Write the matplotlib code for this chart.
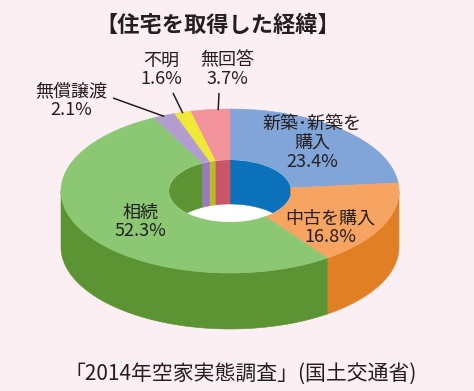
#!/usr/bin/env python3
"""
住宅を取得した経緯 - 3D ドーナツ円グラフ
"""

import numpy as np
import matplotlib
matplotlib.use('Agg')
import matplotlib.pyplot as plt
from matplotlib.patches import Polygon, Ellipse

plt.rcParams['font.family'] = ['Noto Sans CJK JP', 'DejaVu Sans']

# データ (時計回り、12時の位置から)
labels = ['新築･新築を\n購入', '中古を購入', '相続', '無償譲渡', '不明', '無回答']
values = [23.4, 16.8, 52.3, 2.1, 1.6, 3.7]
top_colors = ['#82A5D9', '#F7A462', '#8CC874', '#B39CD0', '#EEE836', '#F2939E']
side_colors = ['#2F6FB5', '#E17F25', '#5C9333', '#9A7BB9', '#BBB72C', '#CB5569']
inner_colors = ['#0B71BB', '#E17F25', '#5C9333', '#9A7BB9', '#BBB72C', '#CB5569']

title = '【住宅を取得した経緯】'
source = '「2014年空家実態調査」(国土交通省)'

BG = '#FCEFF4'
TXT = '#231F20'

# 形状 (ピクセル座標)
cx, cy = 230, 191
rx, ry = 169, 82
rx_in, ry_in = 61, 31
depth = 56
depth_in = 44


def pt(t, a, b, dy=0.0):
    t = np.radians(t)
    return np.column_stack([cx + a * np.cos(t), cy - b * np.sin(t) + dy])


def overlap(t1, t2, lo, hi):
    """区間 [t2, t1] (t1 > t2) と [lo, hi] の重なり"""
    out = []
    for k in (-2, -1, 0, 1, 2):
        a, b = t1 + 360 * k, t2 + 360 * k
        s, e = max(b, lo), min(a, hi)
        if e > s:
            out.append((e - 360 * k, s - 360 * k))
    return out


fracs = np.array(values) / sum(values)
ends = 90 - 360 * np.cumsum(fracs)
starts = np.concatenate([[90], ends[:-1]])

fig = plt.figure(figsize=(4.74, 3.91), dpi=100)
fig.patch.set_facecolor(BG)
ax = fig.add_axes([0, 0, 1, 1])
ax.set_xlim(0, 474)
ax.set_ylim(391, 0)
ax.axis('off')
ax.set_facecolor(BG)

# 外側の側面 (手前半分)
for s, e, col in zip(starts, ends, side_colors):
    for a, b in overlap(s, e, 180, 360):
        tt = np.linspace(a, b, 80)
        top = pt(tt, rx, ry)
        bot = pt(tt[::-1], rx, ry, depth)
        ax.add_patch(Polygon(np.vstack([top, bot]), closed=True,
                             facecolor=col, edgecolor=col, lw=0.4))

# 上面
for s, e, col in zip(starts, ends, top_colors):
    tt = np.linspace(s, e, 120)
    outer = pt(tt, rx, ry)
    inner = pt(tt[::-1], rx_in, ry_in)
    ax.add_patch(Polygon(np.vstack([outer, inner]), closed=True,
                         facecolor=col, edgecolor=col, lw=0.4))

# 穴
hole = Ellipse((cx, cy), 2 * rx_in, 2 * ry_in, facecolor='white', edgecolor='none')
ax.add_patch(hole)
for s, e, col in zip(starts, ends, inner_colors):
    for a, b in overlap(s, e, 0, 180):
        tt = np.linspace(a, b, 80)
        top = pt(tt, rx_in, ry_in)
        bot = pt(tt[::-1], rx_in, ry_in, depth_in)
        p = Polygon(np.vstack([top, bot]), closed=True,
                    facecolor=col, edgecolor=col, lw=0.4)
        ax.add_patch(p)
        p.set_clip_path(hole)

# ラベル
fs = 13
ax.text(312, 143, '新築･新築を\n購入\n23.4%', ha='center', va='center',
        fontsize=fs, color=TXT, linespacing=1.05)
ax.text(330, 228, '中古を購入\n16.8%', ha='center', va='center',
        fontsize=fs, color=TXT, linespacing=1.05)
ax.text(140, 222, '相続\n52.3%', ha='center', va='center',
        fontsize=fs, color=TXT, linespacing=1.05)

# 引出し線つきラベル
outside = [(3, (71, 101), (113, 98), 0.5),
           (4, (161, 70), (173, 93), 0.5),
           (5, (227, 70), (219, 93), 0.7)]
for i, (lx, ly), (sx, sy), f in outside:
    ax.text(lx, ly, f'{labels[i]}\n{values[i]}%', ha='center', va='center',
            fontsize=fs, color=TXT, linespacing=1.05)
    t = starts[i] + (ends[i] - starts[i]) * f
    ex, ey = pt(np.array([t]), rx, ry)[0]
    ax.plot([sx, ex], [sy, ey + 1], color=TXT, lw=1.1, solid_capstyle='butt')

ax.text(218, 25, title, ha='center', va='center', fontsize=16,
        fontweight='bold', color=TXT)
ax.text(241, 374, source, ha='center', va='center', fontsize=15, color=TXT)

fig.savefig('out.png', dpi=100, facecolor=BG)
plt.close(fig)
